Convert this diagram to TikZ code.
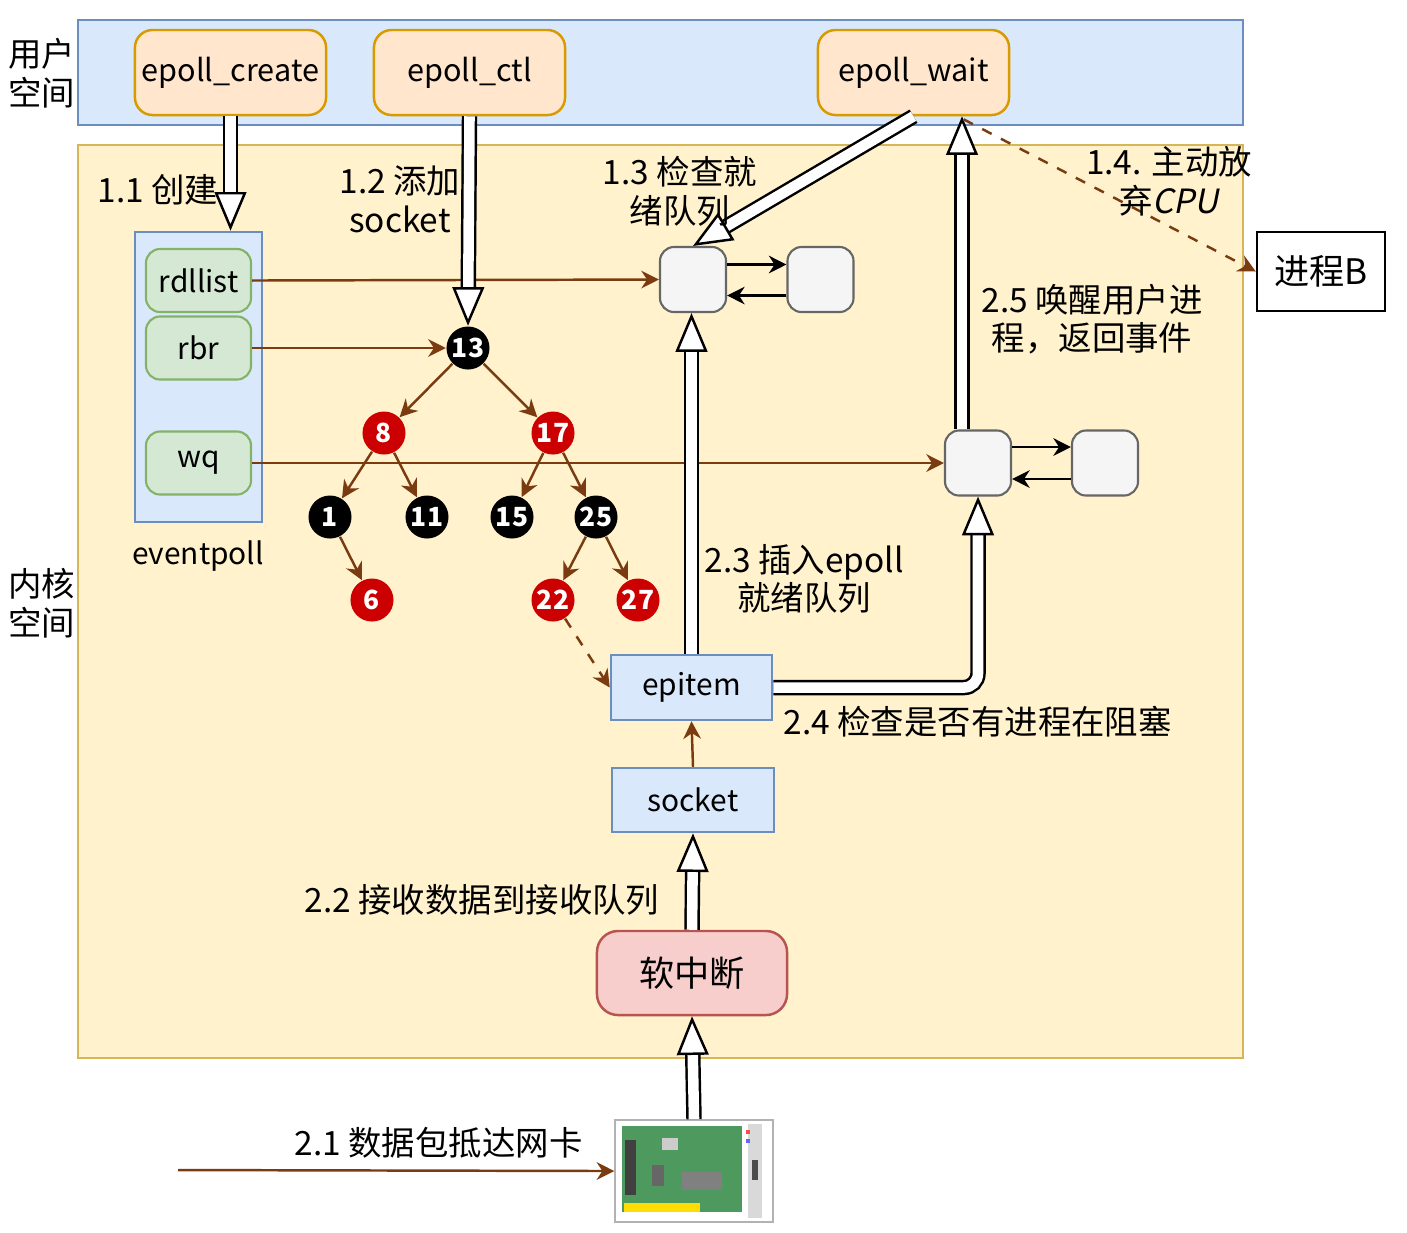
\documentclass[tikz,border=0pt]{standalone}
\usepackage{fontspec}
\setmainfont{Noto Sans CJK SC}
\newfontfamily\slantfont[FakeSlant=0.2]{Noto Sans CJK SC}
\usetikzlibrary{arrows.meta,calc}
\definecolor{userblue}{HTML}{DAE8FC}
\definecolor{blueline}{HTML}{6C8EBF}
\definecolor{kernelyellow}{HTML}{FFF2CC}
\definecolor{yellowline}{HTML}{D6B656}
\definecolor{apiorange}{HTML}{FFE6CC}
\definecolor{orangeline}{HTML}{D79B00}
\definecolor{fieldgreen}{HTML}{D5E8D4}
\definecolor{greenline}{HTML}{82B366}
\definecolor{softred}{HTML}{F8CECC}
\definecolor{redline}{HTML}{B85450}
\definecolor{rbred}{HTML}{CC0000}
\definecolor{linkbrown}{HTML}{7A3B10}
\definecolor{qgray}{HTML}{F5F5F5}
\definecolor{qline}{HTML}{666666}
\definecolor{nicgreen}{HTML}{4E9A5E}
\tikzset{
  txt/.style={font=\fontsize{9.5}{11}\selectfont, align=center, inner sep=0pt},
  api/.style={draw=orangeline, fill=apiorange, rounded corners=5pt, line width=0.7pt,
    minimum width=1.91cm, minimum height=0.85cm, inner xsep=1pt, font=\fontsize{8.7}{11}\selectfont},
  field/.style={draw=greenline, fill=fieldgreen, rounded corners=4pt, line width=0.6pt,
    minimum width=1.05cm, minimum height=0.63cm, font=\fontsize{8.5}{11}\selectfont},
  kbox/.style={draw=blueline, fill=userblue, line width=0.7pt,
    minimum width=1.61cm, minimum height=0.65cm, font=\fontsize{8.5}{11}\selectfont},
  qnode/.style={draw=qline, fill=qgray, rounded corners=4pt, line width=0.6pt,
    minimum width=0.66cm, minimum height=0.65cm},
  rbb/.style={circle, fill=black, text=white, inner sep=0pt, minimum size=0.43cm,
    font=\fontsize{7.5}{8}\bfseries\selectfont},
  rbr/.style={rbb, fill=rbred},
  link/.style={draw=linkbrown, line width=0.7pt, -{Stealth[length=5pt,width=5pt]}},
  qlink/.style={line width=0.7pt, -{Stealth[length=5pt,width=5pt]}},
  big/.style={line width=0.7pt, double=white, double distance=3pt,
    -{Triangle[width=9pt,length=11pt,fill=white]}},
}
\begin{document}
\begin{tikzpicture}[x=0.01cm,y=-0.01cm]
\useasboundingbox (0,0) rectangle (1407,1232);
\fill[white] (0,0) rectangle (1407,1232);

% user space and kernel space
\draw[fill=userblue, draw=blueline, line width=0.7pt] (78,20) rectangle (1243,125);
\draw[fill=kernelyellow, draw=yellowline, line width=0.7pt] (78,145) rectangle (1243,1058);
\node[txt] (uspace) at (42,73) {用户\\空间};
\node[txt] (kspace) at (42,603) {内核\\空间};

\node[api] (ucreate) at (230.5,72.5) {epoll\_create};
\node[api] (uctl) at (469.5,72.5) {epoll\_ctl};
\node[api] (uwait) at (913.5,72.5) {epoll\_wait};

% eventpoll
\node[kbox, minimum width=1.27cm, minimum height=2.90cm] (evpoll) at (198.5,377) {};
\node[field] (rdl) at (198.5,280.5) {rdllist};
\node[field] (rbr) at (198.5,348) {rbr};
\node[field] (wq) at (198.5,463) {wq};
\node[txt, font=\fontsize{8.5}{10}\selectfont] (evname) at (198,556) {eventpoll};

% red black tree
\node[rbb] (n13) at (468,348) {13};
\node[rbr] (n8) at (384,433) {8};
\node[rbr] (n17) at (553,433) {17};
\node[rbb] (n1) at (330,517) {1};
\node[rbb] (n11) at (427,517) {11};
\node[rbb] (n15) at (512,517) {15};
\node[rbb] (n25) at (596,517) {25};
\node[rbr] (n6) at (372,600) {6};
\node[rbr] (n22) at (553,600) {22};
\node[rbr] (n27) at (638,600) {27};

\draw[link] (n13) -- (n8);
\draw[link] (n13) -- (n17);
\draw[link] (n8) -- (n1);
\draw[link] (n8) -- (n11);
\draw[link] (n17) -- (n15);
\draw[link] (n17) -- (n25);
\draw[link] (n1) -- (n6);
\draw[link] (n25) -- (n22);
\draw[link] (n25) -- (n27);

% queues
\node[qnode] (qa1) at (693,279.5) {};
\node[qnode] (qa2) at (820.5,279.5) {};
\node[qnode] (qb1) at (978,463) {};
\node[qnode] (qb2) at (1105,463) {};
\draw[qlink] ($(qa1.east)+(0,-15)$) -- ($(qa2.west)+(0,-15)$);
\draw[qlink] ($(qa2.west)+(0,16)$) -- ($(qa1.east)+(0,16)$);
\draw[qlink] ($(qb1.east)+(0,-16)$) -- ($(qb2.west)+(0,-16)$);
\draw[qlink] ($(qb2.west)+(0,16)$) -- ($(qb1.east)+(0,16)$);

\draw[link] (rdl.east) -- (qa1.west);
\draw[link] (rbr.east) -- (n13.west);
\draw[link] (wq.east) -- (qb1.west);

% kernel side
\node[kbox] (epitem) at (691.5,687.5) {epitem};
\node[kbox, minimum width=1.62cm, minimum height=0.64cm] (socket) at (693,800) {socket};
\node[draw=redline, fill=softred, rounded corners=6pt, line width=0.7pt,
  minimum width=1.90cm, minimum height=0.84cm, font=\fontsize{10}{12}\selectfont] (softirq) at (692,973) {软中断};
\node[draw, line width=0.7pt, minimum width=1.28cm, minimum height=0.79cm,
  font=\fontsize{10}{12}\selectfont] (procb) at (1321,271.5) {进程B};

% network card
\node[draw=black!30, fill=white, minimum width=1.58cm, minimum height=1.02cm, inner sep=0pt] (nic) at (694,1171) {};
\fill[nicgreen] (622,1126) -- (742,1126) -- (742,1212) -- (622,1212) -- cycle;
\fill[black!15] (748,1124) rectangle (762,1218);
\fill[yellow!80!orange] (624,1203) rectangle (700,1212);
\fill[black!75] (625,1140) rectangle (636,1195);
\fill[black!60] (652,1165) rectangle (664,1186);
\fill[black!50] (682,1172) rectangle (722,1190);
\fill[white!80!black] (662,1138) rectangle (678,1150);
\fill[black!70] (752,1160) rectangle (758,1180);
\fill[red!70] (746,1130) rectangle (750,1134);
\fill[blue!60] (746,1139) rectangle (750,1143);

% flow arrows
\coordinate (wakeup) at ($(qb1.north)+(-16,0)$);
\draw[big] (ucreate.south) -- (ucreate.south |- evpoll.north);
\draw[big] (uctl.south) -- (n13.north);
\draw[big] (uwait.south) -- (qa1.north);
\draw[big] (epitem.north) -- (epitem.north |- qa1.south);
\draw[big] (wakeup) -- (wakeup |- uwait.south);
\draw[big, rounded corners=4pt] (epitem.east) -| (qb1.south);
\draw[big] (softirq.north) -- (socket.south);
\draw[big] (nic.north) -- (softirq.south);

\draw[link, dashed] ($(uwait.south)+(50,3)$) -- (procb.west);
\draw[link, dashed] (n22) -- (epitem.west);
\draw[link] (socket.north) -- (epitem.south);
\coordinate (pktin) at (178,1170);
\draw[link] (pktin) -- (nic.west);

% step labels
\node[txt, anchor=west] (l11) at (97,190) {1.1 创建};
\node[txt] (l12) at (400,199) {1.2 添加\\socket};
\node[txt] (l13) at (680,191) {1.3 检查就\\绪队列};
\node[txt] (l14) at (1169,181) {1.4. 主动放\\弃{\slantfont CPU}};
\node[txt] (l25) at (1092,319) {2.5 唤醒用户进\\程，返回事件};
\node[txt] (l23) at (804,579) {2.3 插入epoll\\就绪队列};
\node[txt, anchor=west] (l24) at (783,722) {2.4 检查是否有进程在阻塞};
\node[txt, anchor=west] (l22) at (304,900) {2.2 接收数据到接收队列};
\node[txt, anchor=west] (l21) at (294,1143) {2.1 数据包抵达网卡};
\end{tikzpicture}
\end{document}
